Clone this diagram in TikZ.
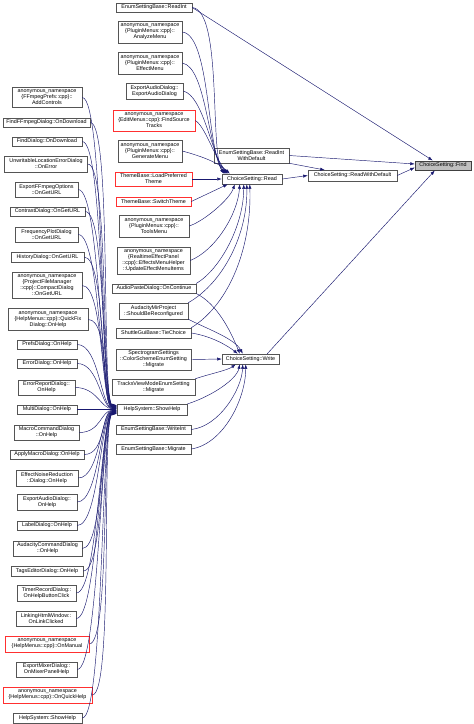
\documentclass[tikz,border=0pt]{standalone}
\usepackage{fontspec}
\setmainfont{Liberation Sans}
\usetikzlibrary{arrows.meta,calc}
\definecolor{edgec}{HTML}{191970}
\definecolor{boxc}{HTML}{555555}
\definecolor{redc}{HTML}{FF3030}
\definecolor{findfill}{HTML}{BFBFBF}
\begin{document}
\begin{tikzpicture}[x=1pt,y=-1pt,
  box/.style={draw=boxc,fill=white,line width=0.5pt,inner sep=0pt,align=center,font=\fontsize{5.4}{6}\selectfont},
  redbox/.style={box,draw=redc},
  findbox/.style={box,draw=black!75,fill=findfill},
  edge/.style={draw=edgec,line width=0.45pt,-{Latex[length=4.5pt,width=3.2pt]}},
  sz/.style 2 args={minimum width=#1pt,minimum height=#2pt}]
\fill[white] (0,0) rectangle (474,724);
\useasboundingbox (0,0) rectangle (474,724);

% right column
\node[box,sz={76}{9.5}] (rdi) at (154,7.5) {EnumSettingBase::ReadInt};
\node[box,sz={64}{22}] (anz) at (150,32) {anonymous\_namespace\\\{PluginMenus::cpp\}::\\AnalyzeMenu};
\node[box,sz={64}{22}] (efm) at (150,63) {anonymous\_namespace\\\{PluginMenus::cpp\}::\\EffectMenu};
\node[box,sz={57}{16}] (ead) at (154.5,91) {ExportAudioDialog::\\ExportAudioDialog};
\node[redbox,sz={82}{21}] (fst) at (154,120.5) {anonymous\_namespace\\\{EditMenus::cpp\}::FindSource\\Tracks};
\node[box,sz={64}{22}] (gen) at (150,151) {anonymous\_namespace\\\{PluginMenus::cpp\}::\\GenerateMenu};
\node[redbox,sz={77}{14}] (lpt) at (153.5,179) {ThemeBase::LoadPreferred\\Theme};
\node[redbox,sz={75}{9.5}] (swt) at (153.5,201.5) {ThemeBase::SwitchTheme};
\node[box,sz={70}{22}] (tlm) at (154,226) {anonymous\_namespace\\\{PluginMenus::cpp\}::\\ToolsMenu};
\node[box,sz={73}{27}] (uem) at (153.5,260.5) {anonymous\_namespace\\\{RealtimeEffectPanel\\::cpp\}::EffectsMenuHelper\\::UpdateEffectMenuItems};
\node[box,sz={84}{9.5}] (apd) at (154,288.5) {AudioPasteDialog::OnContinue};
\node[box,sz={69}{16}] (amp) at (153.5,311) {AudacityMirProject\\::ShouldBeReconfigured};
\node[box,sz={75}{10}] (tie) at (153.5,333) {ShuttleGuiBase::TieChoice};
\node[box,sz={75}{21}] (spc) at (153.5,359.5) {SpectrogramSettings\\::ColorSchemeEnumSetting\\::Migrate};
\node[box,sz={83}{16}] (tvm) at (153.5,387) {TracksViewModeEnumSetting\\::Migrate};
\node[box,sz={70}{10.5}] (shm) at (152,409.5) {HelpSystem::ShowHelp};
\node[box,sz={75}{9.5}] (wri) at (153.5,429.5) {EnumSettingBase::WriteInt};
\node[box,sz={75}{10}] (mig) at (153.5,449) {EnumSettingBase::Migrate};

% middle
\node[box,sz={75}{15}] (riw) at (251.5,155.5) {EnumSettingBase::ReadInt\\WithDefault};
\node[box,sz={60}{10}] (rd) at (252,179) {ChoiceSetting::Read};
\node[box,sz={89}{10.5}] (rwd) at (352.5,175.5) {ChoiceSetting::ReadWithDefault};
\node[findbox,sz={56}{9.5}] (fnd) at (443,165.5) {ChoiceSetting::Find};
\node[box,sz={57}{10}] (wr) at (250.5,359) {ChoiceSetting::Write};

% left column
\node[box,sz={70}{20}] (l1) at (47,97.5) {anonymous\_namespace\\\{FFmpegPrefs::cpp\}::\\AddControls};
\node[box,sz={87}{9.5}] (l2) at (46.5,122.5) {FindFFmpegDialog::OnDownload};
\node[box,sz={70}{9}] (l3) at (47,141.5) {FindDialog::OnDownload};
\node[box,sz={83}{16}] (l4) at (46,164) {UnwritableLocationErrorDialog\\::OnError};
\node[box,sz={63}{15}] (l5) at (46.5,189.5) {ExportFFmpegOptions\\::OnGetURL};
\node[box,sz={75}{9.5}] (l6) at (47.5,211.5) {ContrastDialog::OnGetURL};
\node[box,sz={63}{15}] (l7) at (46.5,234.5) {FrequencyPlotDialog\\::OnGetURL};
\node[box,sz={73}{10}] (l8) at (47.5,257) {HistoryDialog::OnGetURL};
\node[box,sz={70}{26}] (l9) at (47,285.5) {anonymous\_namespace\\\{ProjectFileManager\\::cpp\}::CompactDialog\\::OnGetURL};
\node[box,sz={80}{22}] (l10) at (48,319.5) {anonymous\_namespace\\\{HelpMenus::cpp\}::QuickFix\\Dialog::OnHelp};
\node[box,sz={60}{9.5}] (l11) at (47,344.5) {PrefsDialog::OnHelp};
\node[box,sz={60}{9.5}] (l12) at (47,363.5) {ErrorDialog::OnHelp};
\node[box,sz={57}{15}] (l13) at (46.5,387.5) {ErrorReportDialog::\\OnHelp};
\node[box,sz={60}{9.5}] (l14) at (47,409.5) {MultiDialog::OnHelp};
\node[box,sz={65}{15}] (l15) at (46.5,432.5) {MacroCommandDialog\\::OnHelp};
\node[box,sz={74}{9.5}] (l16) at (47,454.5) {ApplyMacroDialog::OnHelp};
\node[box,sz={62}{16}] (l17) at (47,478) {EffectNoiseReduction\\::Dialog::OnHelp};
\node[box,sz={60}{16}] (l18) at (47,502) {ExportAudioDialog::\\OnHelp};
\node[box,sz={60}{9.5}] (l19) at (47,525.5) {LabelDialog::OnHelp};
\node[box,sz={69}{15}] (l20) at (47.5,548.5) {AudacityCommandDialog\\::OnHelp};
\node[box,sz={72}{10}] (l21) at (47,571) {TagsEditorDialog::OnHelp};
\node[box,sz={59}{16}] (l22) at (46.5,593) {TimerRecordDialog::\\OnHelpButtonClick};
\node[box,sz={60}{15}] (l23) at (46,618.5) {LinkingHtmlWindow::\\OnLinkClicked};
\node[redbox,sz={84}{16}] (l24) at (47,644) {anonymous\_namespace\\\{HelpMenus::cpp\}::OnManual};
\node[box,sz={61}{15}] (l25) at (46.5,669.5) {ExportMixerDialog::\\OnMixerPanelHelp};
\node[redbox,sz={89}{16}] (l26) at (47.5,695) {anonymous\_namespace\\\{HelpMenus::cpp\}::OnQuickHelp};
\node[box,sz={69}{10}] (l27) at (47.5,718) {HelpSystem::ShowHelp};

% left edges into ShowHelp
\foreach \n [count=\i] in {l1,l2,l3,l4,l5,l6,l7,l8,l9,l10,l11,l12,l13}
  \draw[edge] (\n.east) .. controls +(22,0) and +(-16,0) .. ($(shm.west)+(0,{-4.6+0.3*\i})$);
\draw[edge] (l14.east) -- (shm.west);
\foreach \n [count=\i] in {l27,l26,l25,l24,l23,l22,l21,l20,l19,l18,l17,l16,l15}
  \draw[edge] (\n.east) .. controls +(22,0) and +(-16,0) .. ($(shm.west)+(0,{4.6-0.3*\i})$);

% into Read from above
\draw[edge] (rdi.east) .. controls +(30,3) and +(-14,-24) .. ($(rd.north west)+(2,0)$);
\draw[edge] (anz.east) .. controls +(28,3) and +(-18,-24) .. ($(rd.north west)+(3,0)$);
\draw[edge] (efm.east) .. controls +(24,4) and +(-18,-24) .. ($(rd.north west)+(4,0)$);
\draw[edge] (ead.east) .. controls +(20,5) and +(-16,-22) .. ($(rd.north west)+(5,0)$);
\draw[edge] (fst.east) .. controls +(10,6) and +(-14,-18) .. ($(rd.north west)+(6,0)$);
\draw[edge] (gen.east) .. controls +(15,4) and +(-12,-12) .. ($(rd.north west)+(8,0)$);
\draw[edge] (lpt.east) -- (rd.west);
\draw[edge] (swt.east) -- ($(rd.south west)+(6,0)$);
% into Read from below
\draw[edge] (tlm.east) .. controls +(15,-5) and +(-5,15) .. ($(rd.south west)+(13,0)$);
\draw[edge] (uem.east) .. controls +(25,-10) and +(-2,30) .. ($(rd.south west)+(18,0)$);
\draw[edge] (apd.north east) .. controls +(25,-15) and +(0,40) .. ($(rd.south west)+(22,0)$);
\draw[edge] (amp.north east) .. controls +(35,-20) and +(1,50) .. ($(rd.south west)+(25,0)$);
\draw[edge] (tie.north east) .. controls +(40,-25) and +(2,60) .. ($(rd.south west)+(28,0)$);

% into Write
\draw[edge] (apd.south east) .. controls +(20,10) and +(-10,-25) .. ($(wr.north west)+(18,0)$);
\draw[edge] (amp.south east) .. controls +(20,10) and +(-8,-15) .. ($(wr.north west)+(21,0)$);
\draw[edge] (tie.east) .. controls +(20,3) and +(-10,-8) .. ($(wr.north west)+(16,0)$);
\draw[edge] (spc.east) -- (wr.west);
\draw[edge] (tvm.north east) .. controls +(15,-5) and +(-8,6) .. ($(wr.south west)+(14,0)$);
\draw[edge] (shm.north east) .. controls +(25,-8) and +(-3,15) .. ($(wr.south west)+(18,0)$);
\draw[edge] (wri.east) .. controls +(28,-3) and +(-1,25) .. ($(wr.south west)+(21,0)$);
\draw[edge] (mig.east) .. controls +(32,-5) and +(0,35) .. ($(wr.south west)+(24,0)$);

% middle / Find
\draw[edge] (rdi.east) -- ($(fnd.north west)+(18,0)$);
\draw[edge] (riw.east) -- ($(fnd.west)+(0,-1.5)$);
\draw[edge] (riw.south east) -- ($(rwd.north west)+(17,0)$);
\draw[edge] (rd.east) -- (rwd.west);
\draw[edge] (rwd.east) -- ($(fnd.west)+(0,2)$);
\draw[edge] ($(wr.north east)+(-12,0)$) -- ($(fnd.south west)+(20,0)$);
\end{tikzpicture}
\end{document}
